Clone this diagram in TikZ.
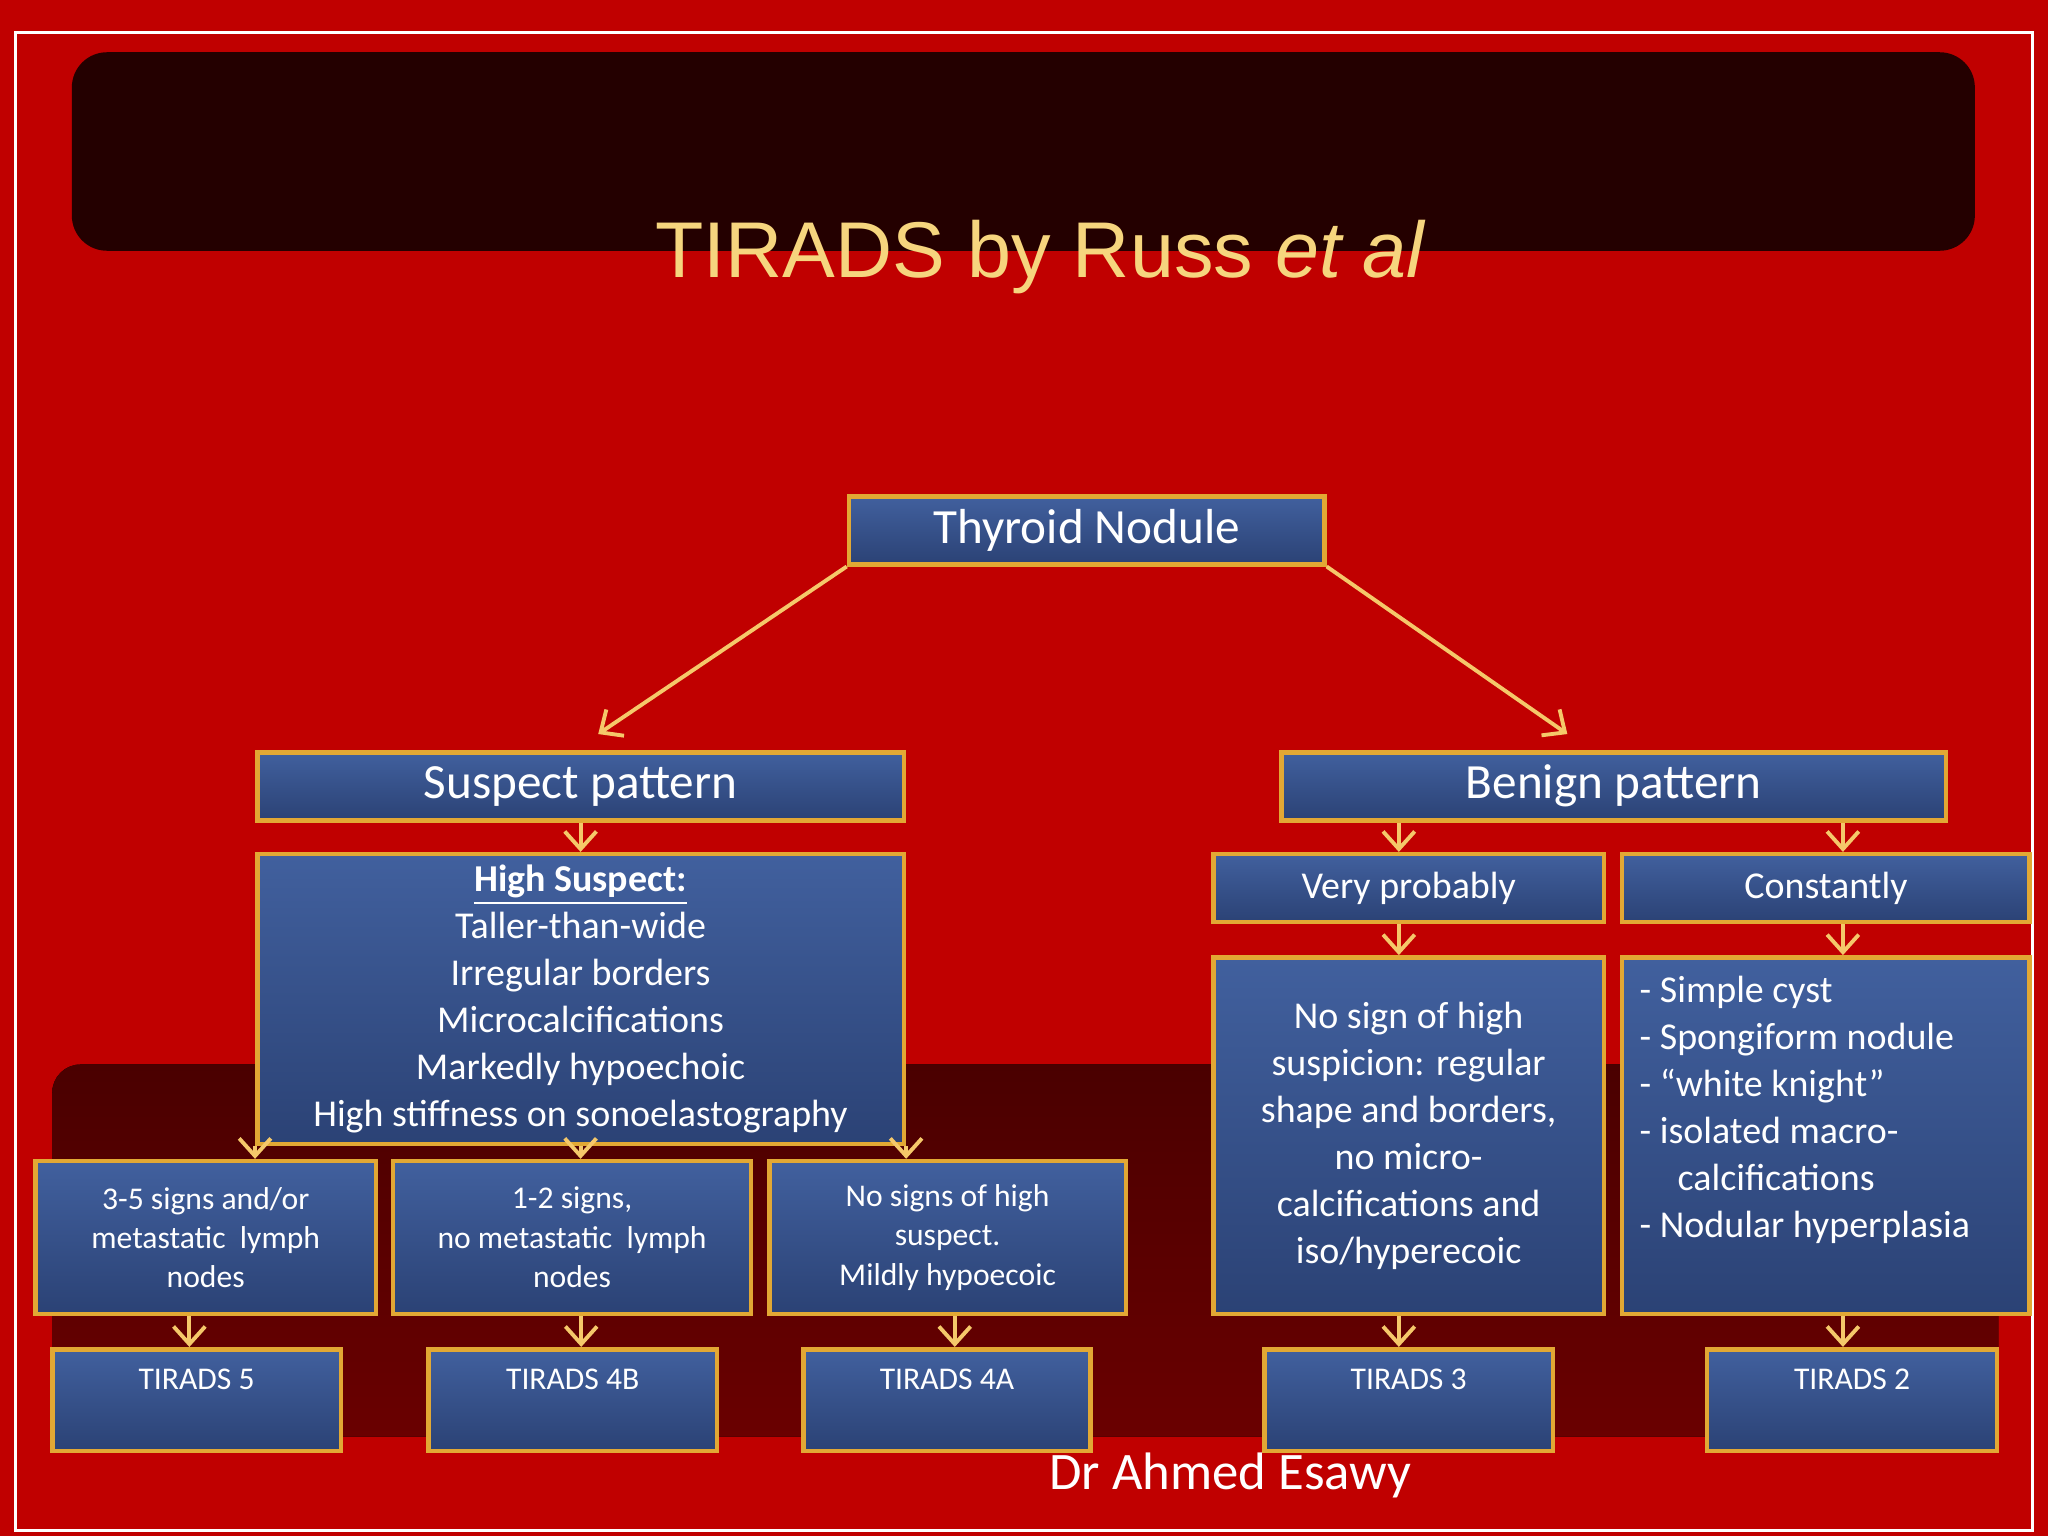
\documentclass[tikz,border=0pt]{standalone}
\usepackage{fontspec}
\usetikzlibrary{arrows.meta}
\setmainfont{Carlito}
\newfontfamily\arialf{Liberation Sans}
\definecolor{bgred}{HTML}{C00000}
\definecolor{gold}{HTML}{E2A834}
\definecolor{ttl}{HTML}{F6D57E}
\definecolor{btop}{HTML}{41609E}
\definecolor{bbot}{HTML}{2B4275}
\definecolor{arrc}{HTML}{F5C86A}
\definecolor{band}{HTML}{1C0000}
\definecolor{bandb}{HTML}{4A0000}
\definecolor{bandc}{HTML}{6A0000}
\begin{document}
\begin{tikzpicture}[x=0.013061cm,y=-0.013061cm,
  box/.style 2 args={draw=gold,line width=1.3pt,top color=btop,bottom color=bbot,
    minimum width=#1*0.013061cm,minimum height=#2*0.013061cm,inner sep=2pt,
    text=white,align=center},
  arr/.style={draw=arrc,line width=1.1pt,-{Straight Barb[length=5pt,width=9pt]}},
  big/.style={font=\fontsize{14}{16}\selectfont},
  mid/.style={font=\fontsize{10.8}{13.4}\selectfont},
  sml/.style={font=\fontsize{9}{11.2}\selectfont}]
\useasboundingbox (0,0) rectangle (1568,1176);
\fill[bgred] (0,0) rectangle (1568,1176);
\fill[band, opacity=0.95, rounded corners=10pt] (55,40) rectangle (1512,192);
\fill[top color=bandb, bottom color=bandc, rounded corners=8pt] (40,815) rectangle (1530,1100);
\draw[white,line width=0.9pt] (12,25) rectangle (1556,1172);
\node[text=ttl,font=\arialf\fontsize{22.5}{27}\selectfont] (title) at (797,197) {TIRADS by Russ \textit{et al}};
\node[box={364}{52},big] (tn) at (832,406) {Thyroid Nodule};
\node[box={495}{52},big] (sp) at (444.5,602) {Suspect pattern};
\node[box={509}{52},big] (bp) at (1235.5,602) {Benign pattern};
\node[box={495}{222},mid] (hs) at (444.5,765) {\textbf{\underline{High Suspect:}}\\Taller-than-wide\\Irregular borders\\Microcalcifications\\Markedly hypoechoic\\High stiffness on sonoelastography};
\node[box={299}{52},mid] (vp) at (1078.5,680) {Very probably};
\node[box={312}{52},mid] (cs) at (1398,680) {Constantly};
\node[box={299}{273},mid] (ns) at (1078.5,869.5) {No sign of high\\suspicion: regular\\shape and borders,\\no micro-\\calcifications and\\iso/hyperecoic};
\node[box={312}{273},mid,inner sep=0pt] (sc) at (1398,869.5) {\parbox[c][95pt][t]{106pt}{\raggedright\vspace*{2pt}- Simple cyst\\- Spongiform nodule\\- ``white knight''\\- isolated macro-\\\hspace*{1em}calcifications\\- Nodular hyperplasia}};
\node[box={261}{117},sml] (b1) at (157.5,947.5) {3-5 signs and/or\\metastatic\ \ lymph\\nodes};
\node[box={274}{117},sml] (b2) at (438,947.5) {1-2 signs,\\no metastatic\ \ lymph\\nodes};
\node[box={273}{117},sml] (b3) at (725.5,947.5) {No signs of high\\suspect.\\Mildly hypoecoic};
\node[box={221}{78},sml,text depth=12pt] (t5) at (150.5,1072) {TIRADS 5};
\node[box={221}{78},sml,text depth=12pt] (t4b) at (438.5,1072) {TIRADS 4B};
\node[box={220}{78},sml,text depth=12pt] (t4a) at (725,1072) {TIRADS 4A};
\node[box={221}{78},sml,text depth=12pt] (t3) at (1078.5,1072) {TIRADS 3};
\node[box={222}{78},sml,text depth=12pt] (t2) at (1418,1072) {TIRADS 2};
\node[text=white,font=\fontsize{15}{18}\selectfont] (auth) at (942,1130) {Dr Ahmed Esawy};
\coordinate (l1) at (458,562);
\coordinate (r1) at (1200,562);
\coordinate (xa) at (145,0);
\coordinate (xb) at (445,0);
\coordinate (xc) at (731,0);
\coordinate (xd) at (1071,0);
\coordinate (xe) at (1411,0);
\draw[arr] (tn.south west) -- (l1);
\draw[arr] (tn.south east) -- (r1);
\draw[arr] (sp.south) -- (hs.north);
\draw[arr] (hs.south west) -- (hs.south west |- b1.north);
\draw[arr] (hs.south) -- (hs.south |- b2.north);
\draw[arr] (hs.south east) -- (hs.south east |- b3.north);
\draw[arr] (xa |- b1.south) -- (xa |- t5.north);
\draw[arr] (xb |- b2.south) -- (xb |- t4b.north);
\draw[arr] (xc |- b3.south) -- (xc |- t4a.north);
\draw[arr] (xd |- bp.south) -- (xd |- vp.north);
\draw[arr] (xe |- bp.south) -- (xe |- cs.north);
\draw[arr] (xd |- vp.south) -- (xd |- ns.north);
\draw[arr] (xe |- cs.south) -- (xe |- sc.north);
\draw[arr] (xd |- ns.south) -- (xd |- t3.north);
\draw[arr] (xe |- sc.south) -- (xe |- t2.north);
\end{tikzpicture}
\end{document}
